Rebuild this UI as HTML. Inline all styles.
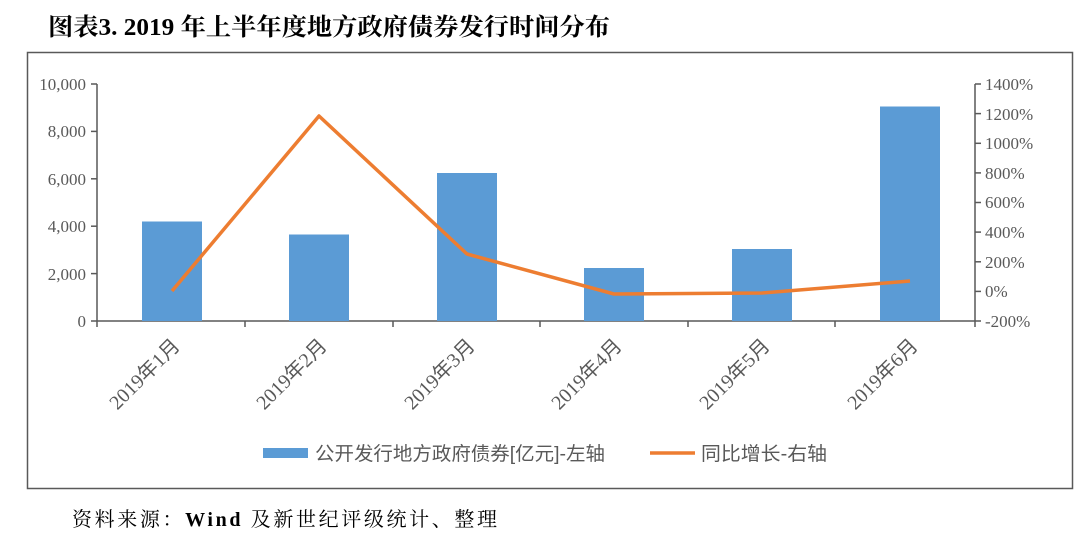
<!DOCTYPE html>
<html><head><meta charset="utf-8"><style>
body{margin:0;background:#fff;width:1080px;height:543px;overflow:hidden}
</style></head><body>
<svg width="1080" height="543" xmlns="http://www.w3.org/2000/svg" font-family="'Liberation Serif','Noto Serif CJK SC',serif">
<text x="48" y="35" font-size="24" font-weight="bold" fill="#000" textLength="562" lengthAdjust="spacingAndGlyphs">图表3. 2019 年上半年度地方政府债券发行时间分布</text>
<rect x="27.5" y="52.5" width="1045" height="436" fill="#fff" stroke="#595959" stroke-width="1.5"/>
<g stroke="#595959" stroke-width="1.5">
<line x1="97" y1="84" x2="97" y2="321"/>
<line x1="975" y1="84" x2="975" y2="321"/>
<line x1="97" y1="321" x2="975" y2="321"/>
<line x1="91" y1="84" x2="97" y2="84"/><line x1="91" y1="131.4" x2="97" y2="131.4"/><line x1="91" y1="178.8" x2="97" y2="178.8"/><line x1="91" y1="226.2" x2="97" y2="226.2"/><line x1="91" y1="273.6" x2="97" y2="273.6"/><line x1="91" y1="321" x2="97" y2="321"/>
<line x1="975" y1="84" x2="981" y2="84"/><line x1="975" y1="113.6" x2="981" y2="113.6"/><line x1="975" y1="143.3" x2="981" y2="143.3"/><line x1="975" y1="172.9" x2="981" y2="172.9"/><line x1="975" y1="202.5" x2="981" y2="202.5"/><line x1="975" y1="232.1" x2="981" y2="232.1"/><line x1="975" y1="261.8" x2="981" y2="261.8"/><line x1="975" y1="291.4" x2="981" y2="291.4"/><line x1="975" y1="321" x2="981" y2="321"/>
<line x1="97" y1="321" x2="97" y2="327"/><line x1="245" y1="321" x2="245" y2="327"/><line x1="393" y1="321" x2="393" y2="327"/><line x1="540" y1="321" x2="540" y2="327"/><line x1="688" y1="321" x2="688" y2="327"/><line x1="835" y1="321" x2="835" y2="327"/><line x1="975" y1="321" x2="975" y2="327"/>
</g>
<g font-size="17" fill="#595959" text-anchor="end">
<text x="86" y="90">10,000</text><text x="86" y="137">8,000</text><text x="86" y="185">6,000</text><text x="86" y="232">4,000</text><text x="86" y="280">2,000</text><text x="86" y="327">0</text>
</g>
<g font-size="17" fill="#595959" text-anchor="start">
<text x="985" y="90">1400%</text><text x="985" y="120">1200%</text><text x="985" y="149">1000%</text><text x="985" y="179">800%</text><text x="985" y="208">600%</text><text x="985" y="238">400%</text><text x="985" y="268">200%</text><text x="985" y="297">0%</text><text x="985" y="327">-200%</text>
</g>
<g fill="#5B9BD5">
<rect x="142" y="221.5" width="60" height="99.5"/>
<rect x="289" y="234.5" width="60" height="86.5"/>
<rect x="437" y="173" width="60" height="148"/>
<rect x="584" y="268" width="60" height="53"/>
<rect x="732" y="249" width="60" height="72"/>
<rect x="880" y="106.5" width="60" height="214.5"/>
</g>
<polyline points="172,291 319,116 467,254 614,294 762,293 910,281" fill="none" stroke="#ED7D31" stroke-width="3.5" stroke-linejoin="round"/>
<g font-size="20" fill="#595959" text-anchor="end" font-family="'Liberation Serif','Noto Sans CJK SC',serif">
<text transform="translate(181,347) rotate(-45)">2019年1月</text>
<text transform="translate(328,347) rotate(-45)">2019年2月</text>
<text transform="translate(476,347) rotate(-45)">2019年3月</text>
<text transform="translate(623,347) rotate(-45)">2019年4月</text>
<text transform="translate(771,347) rotate(-45)">2019年5月</text>
<text transform="translate(919,347) rotate(-45)">2019年6月</text>
</g>
<rect x="263" y="448" width="45" height="10" fill="#5B9BD5"/>
<text x="315" y="460" font-size="19" fill="#595959" font-family="'Liberation Sans','Noto Sans CJK SC',sans-serif" textLength="290" lengthAdjust="spacingAndGlyphs">公开发行地方政府债券[亿元]-左轴</text>
<line x1="650" y1="453" x2="695" y2="453" stroke="#ED7D31" stroke-width="3.5"/>
<text x="701" y="460" font-size="19" fill="#595959" font-family="'Liberation Sans','Noto Sans CJK SC',sans-serif" textLength="126" lengthAdjust="spacingAndGlyphs">同比增长-右轴</text>
<text x="72" y="526" font-size="20" fill="#000" textLength="425" lengthAdjust="spacing">资料来源：<tspan font-weight="bold">Wind</tspan> 及新世纪评级统计、整理</text>
</svg>
</body></html>
